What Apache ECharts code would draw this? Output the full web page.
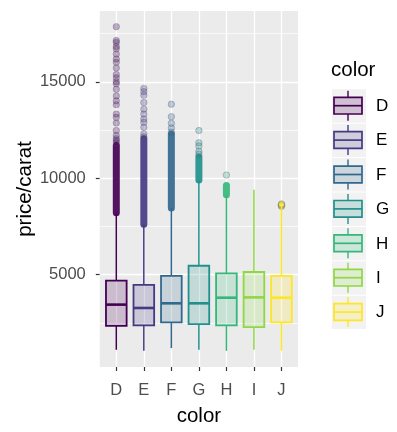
<!DOCTYPE html>
<html>
<head>
<meta charset="utf-8">
<script src="https://cdn.jsdelivr.net/npm/echarts@6/dist/echarts.min.js"></script>
<style>
html, body { margin: 0; padding: 0; background: #ffffff; }
#chart { width: 397px; height: 432px; }
</style>
</head>
<body>
<div id="chart"></div>
<script>
// price/carat by diamond color
const categories = ['D', 'E', 'F', 'G', 'H', 'I', 'J']
const colors = ['#440154', '#443A83', '#31688E', '#21908C', '#35B779', '#8FD744', '#FDE725']

const whiskerLow = [1103, 1051, 1190, 1103, 1051, 1103, 1051]
const q1 = [2349, 2369, 2523, 2436, 2369, 2282, 2523]
const median = [3446, 3272, 3513, 3513, 3805, 3821, 3805]
const q3 = [4692, 4472, 4933, 5462, 5067, 5138, 4933]
const whiskerHigh = [8200, 7600, 8450, 9900, 9120, 9395, 8500]

// ranges where outliers are packed so tight they merge into a bar
const denseLow = [8210, 7610, 8460, 9910, 9140, null, null]
const denseHigh = [11700, 12040, 12280, 11100, 9620, null, null]

// loose outliers
const outD = [17857, 17138, 17036, 16831, 16707, 16436, 16180, 16010, 15718, 15374, 15205, 15000, 14897, 14605, 14266, 14010, 13805, 13323, 13154, 12861, 12472, 12215, 12050, 11959, 11850]
const outE = [14656, 14487, 14300, 13923, 13579, 13323, 13066, 12897, 12641, 12297, 12150]
const outF = [13836, 13190, 12846, 12605, 12385]
const outG = [12472, 11836, 11667, 11395, 11250]
const outH = [10164]
const outI = []
const outJ = [8540, 8574, 8600, 8640, 8660]

const yMajor = [5000, 10000, 15000]
const yMinor = [2500, 7500, 12500, 17500]

const FONT = '"Liberation Sans", Arial, sans-serif'

function rgba(hex, a){
	const n = parseInt(hex.slice(1), 16)
	return `rgba(${n >> 16},${(n >> 8) & 255},${n & 255},${a})`
}

const outlierLists = [outD, outE, outF, outG, outH, outI, outJ]
const outlierData = []
outlierLists.forEach((list, k) => {
	list.forEach(v => outlierData.push([k + 1, v]))
})

const boxData = categories.map((c, k) => [k + 1, whiskerLow[k], q1[k], median[k], q3[k], whiskerHigh[k]])
const denseData = []
categories.forEach((c, k) => {
	if(denseLow[k] !== null) denseData.push([k + 1, denseLow[k], denseHigh[k]])
})

const xTicks = categories.map((c, k) => k + 1)

// grid lines, drawn behind everything
const gridLines = []
yMajor.forEach(v => gridLines.push({ yAxis: v, lineStyle: { width: 1.3 } }))
yMinor.forEach(v => gridLines.push({ yAxis: v, lineStyle: { width: 0.7 } }))
xTicks.forEach(v => gridLines.push({ xAxis: v, lineStyle: { width: 1.3 } }))

// legend keys
const legendTop = 89.3
const legendStep = 34.4
const legendKeys = categories.map((c, k) => {
	const top = legendTop + k * legendStep
	const col = colors[k]
	return {
		type: 'group',
		x: 332,
		y: top,
		children: [
			{ type: 'rect', shape: { x: 0, y: 0, width: 34, height: 33.4 }, style: { fill: '#F2F2F2' } },
			{ type: 'line', shape: { x1: 16, y1: 1.4, x2: 16, y2: 8 }, style: { stroke: col, lineWidth: 1.4 } },
			{ type: 'line', shape: { x1: 16, y1: 24.7, x2: 16, y2: 31.4 }, style: { stroke: col, lineWidth: 1.4 } },
			{ type: 'rect', shape: { x: 2, y: 8, width: 28, height: 16.7 }, style: { fill: rgba(col, 0.2), stroke: col, lineWidth: 1.7 } },
			{ type: 'line', shape: { x1: 2, y1: 16.4, x2: 30, y2: 16.4 }, style: { stroke: col, lineWidth: 1.7 } },
			{ type: 'text', x: 44, y: 17, style: { text: c, fill: '#000000', font: `17px ${FONT}`, verticalAlign: 'middle' } }
		]
	}
})

let option = {
	animation: false,
	backgroundColor: '#ffffff',
	grid: {
		left: 96, right: 99, top: 11, bottom: 59,
		show: true, backgroundColor: '#EBEBEB', borderWidth: 0
	},
	xAxis: {
		type: 'value',
		min: 0.4, max: 7.6,
		name: 'color',
		nameLocation: 'middle',
		nameGap: 39,
		nameTextStyle: { fontSize: 20.5, color: '#000000', fontFamily: FONT },
		axisLine: { show: false },
		axisTick: { show: true, length: 4, customValues: xTicks, lineStyle: { color: '#333333', width: 1.2 } },
		axisLabel: {
			customValues: xTicks, margin: 15,
			fontSize: 16.5, color: '#4D4D4D', fontFamily: FONT,
			formatter: v => categories[Math.round(v) - 1]
		},
		splitLine: { show: false }
	},
	yAxis: {
		type: 'value',
		min: 212, max: 18668,
		name: 'price/carat',
		nameLocation: 'middle',
		nameGap: 63,
		nameTextStyle: { fontSize: 20.5, color: '#000000', fontFamily: FONT },
		axisLine: { show: false },
		axisTick: { show: true, length: 4, customValues: yMajor, lineStyle: { color: '#333333', width: 1.2 } },
		axisLabel: {
			customValues: yMajor, margin: 14,
			fontSize: 16.5, color: '#4D4D4D', fontFamily: FONT,
			formatter: v => String(v)
		},
		splitLine: { show: false }
	},
	graphic: [
		{ type: 'text', x: 331, y: 70, style: { text: 'color', fill: '#000000', font: `20.5px ${FONT}`, verticalAlign: 'middle' } },
		...legendKeys
	],
	series: [
		{
			name: 'grid',
			type: 'scatter',
			data: [],
			silent: true,
			markLine: {
				silent: true, symbol: 'none', z: 1,
				label: { show: false },
				lineStyle: { color: '#ffffff', type: 'solid' },
				data: gridLines
			}
		},
		{
			name: 'dense',
			type: 'custom',
			z: 3,
			silent: true,
			encode: { x: 0, y: [1, 2] },
			data: denseData,
			renderItem: (params, api) => {
				const i = api.value(0)
				const x = api.coord([i, 0])[0]
				const yLo = api.coord([i, api.value(1)])[1]
				const yHi = api.coord([i, api.value(2)])[1]
				const r = 3.5
				return {
					type: 'rect',
					shape: { x: x - r, y: yHi - r, width: 2 * r, height: yLo - yHi + 2 * r, r: r },
					style: { fill: rgba(colors[i - 1], 0.92) }
				}
			}
		},
		{
			name: 'outliers',
			type: 'scatter',
			z: 3,
			symbol: 'circle',
			symbolSize: 6.5,
			data: outlierData,
			itemStyle: {
				color: p => colors[p.data[0] - 1],
				borderColor: p => colors[p.data[0] - 1],
				borderWidth: 1,
				opacity: 0.3
			}
		},
		{
			name: 'boxes',
			type: 'custom',
			z: 4,
			encode: { x: 0, y: [1, 2, 3, 4, 5] },
			data: boxData,
			renderItem: (params, api) => {
				const i = api.value(0)
				const col = colors[i - 1]
				const w = api.size([0.75, 0])[0]
				const x = api.coord([i, 0])[0]
				const yLow = api.coord([i, api.value(1)])[1]
				const yQ1 = api.coord([i, api.value(2)])[1]
				const yMed = api.coord([i, api.value(3)])[1]
				const yQ3 = api.coord([i, api.value(4)])[1]
				const yHigh = api.coord([i, api.value(5)])[1]
				return {
					type: 'group',
					children: [
						{ type: 'line', shape: { x1: x, y1: yHigh, x2: x, y2: yQ3 }, style: { stroke: col, lineWidth: 1.5 } },
						{ type: 'line', shape: { x1: x, y1: yQ1, x2: x, y2: yLow }, style: { stroke: col, lineWidth: 1.5 } },
						{ type: 'rect', shape: { x: x - w / 2, y: yQ3, width: w, height: yQ1 - yQ3 }, style: { fill: rgba(col, 0.2), stroke: col, lineWidth: 1.8 } },
						{ type: 'line', shape: { x1: x - w / 2, y1: yMed, x2: x + w / 2, y2: yMed }, style: { stroke: col, lineWidth: 2.6 } }
					]
				}
			}
		}
	]
}

let myChart = echarts.init(document.getElementById('chart'), null, { renderer: 'canvas' })
myChart.setOption(option)
</script>
</body>
</html>
